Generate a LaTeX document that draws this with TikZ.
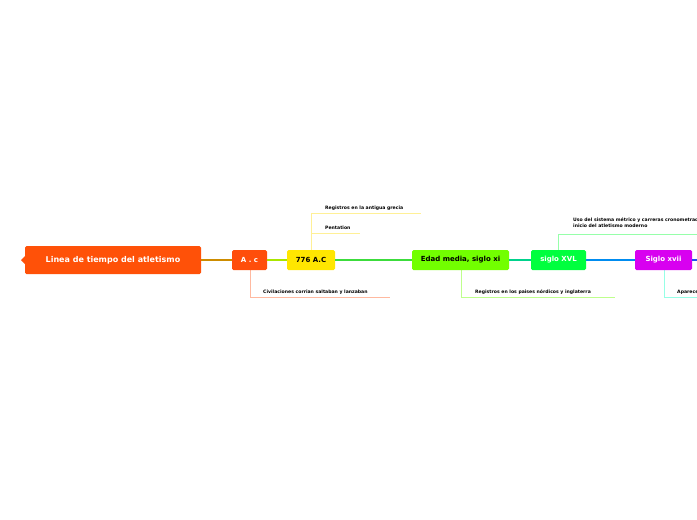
\documentclass[tikz,border=0pt]{standalone}
\usepackage{fontspec}
\setmainfont{DejaVu Sans}
\begin{document}
\begin{tikzpicture}[x=1pt,y=-1pt,
 box/.style={rounded corners=1.5pt,minimum height=20pt,inner sep=0pt,font=\bfseries\fontsize{7}{8}\selectfont,drop shadow/.style={}},
 lbl/.style={anchor=west,inner sep=0pt,font=\bfseries\fontsize{4.6}{5.6}\selectfont,align=left},
 main/.style={line width=1.3pt},
 br/.style={line width=0.7pt}]
\useasboundingbox (0,0) rectangle (697,520);
\clip (0,0) rectangle (697,520);
\definecolor{cT}{HTML}{FF5108}
\definecolor{cA}{HTML}{FF4E0B}
\definecolor{cY}{HTML}{FFE600}
\definecolor{cG}{HTML}{72FF00}
\definecolor{cX}{HTML}{00FF3E}
\definecolor{cM}{HTML}{D800F0}
% branches
\draw[br,color={rgb,255:red,255;green,185;blue,160}] (250,270) |- (390,297);
\draw[br,color={rgb,255:red,255;green,240;blue,150}] (311,250) |- (421,213);
\draw[br,color={rgb,255:red,255;green,240;blue,150}] (311,233) -- (360,233);
\draw[br,color={rgb,255:red,190;green,255;blue,140}] (461,270) |- (615,297);
\draw[br,color={rgb,255:red,150;green,255;blue,170}] (558,250) |- (697,234);
\draw[br,color={rgb,255:red,150;green,255;blue,230}] (664,270) |- (697,297);
% main line
\coordinate (end) at (697,260);
\node[box,fill=cT,text=white,minimum width=176pt,minimum height=28pt,font=\bfseries\fontsize{8}{9}\selectfont] (t) at (113,260) {Linea de tiempo del atletismo};
\fill[cT] (21,260) -- (25,256) -- (25,264) -- cycle;
\node[box,fill=cA,text=white,minimum width=35pt] (a) at (249.5,260) {A . c};
\node[box,fill=cY,minimum width=48pt] (b) at (311,260) {776 A.C};
\node[box,fill=cG,minimum width=97pt] (c) at (460.5,260) {Edad media, siglo xi};
\node[box,fill=cX,text=white,minimum width=55pt] (d) at (558.5,260) {siglo XVL};
\node[box,fill=cM,text=white,minimum width=57pt] (e) at (663.5,260) {Siglo xvii};
\begin{scope}[on background layer/.style={}]
\end{scope}
\draw[main,color={rgb,255:red,205;green,140;blue,0}] (t.east) -- (a.west);
\draw[main,color={rgb,255:red,170;green,230;blue,0}] (a.east) -- (b.west);
\draw[main,color={rgb,255:red,60;green,220;blue,60}] (b.east) -- (c.west);
\draw[main,color={rgb,255:red,0;green,210;blue,140}] (c.east) -- (d.west);
\draw[main,color={rgb,255:red,0;green,140;blue,240}] (d.east) -- (e.west);
\draw[main,color={rgb,255:red,30;green,80;blue,240}] (e.east) -- (end);
% labels
\node[lbl] at (263,292) {Civilaciones corrian saltaban y lanzaban};
\node[lbl] at (325,208) {Registros en la antigua grecia};
\node[lbl] at (325,228) {Pentation};
\node[lbl] at (475,292) {Registros en los paises nórdicos y inglaterra};
\node[lbl,anchor=north west] at (573,218) {Uso del sistema métrico y carreras cronometradas\\inicio del atletismo moderno};
\node[lbl] at (677,292) {Aparece};
\end{tikzpicture}
\end{document}
